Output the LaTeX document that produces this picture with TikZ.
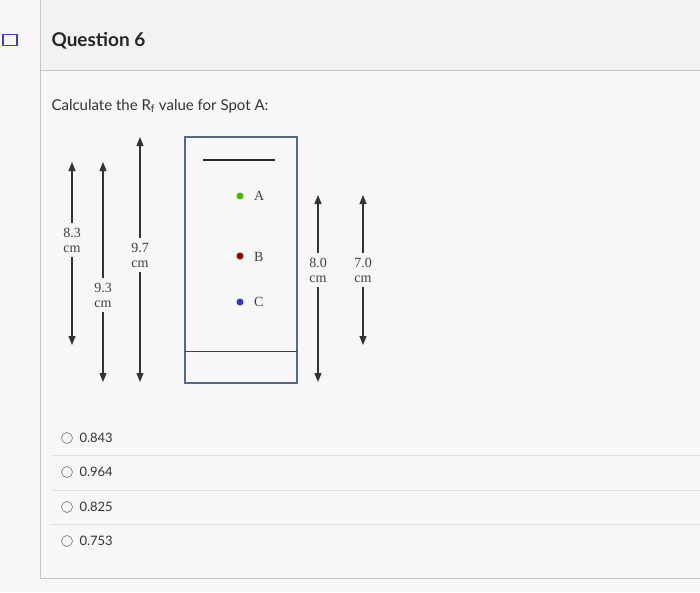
\documentclass[tikz,border=0pt]{standalone}
\usepackage{fontspec}
\setmainfont{Lato}
\newfontfamily\tms{Liberation Serif}
\usetikzlibrary{arrows.meta}
\definecolor{platec}{RGB}{85,105,135}
\begin{document}
\begin{tikzpicture}[x=1pt,y=-1pt,
  dim/.style={draw=black!80,line width=1.1pt,shorten <=4pt,-{Triangle[length=9pt,width=7pt]}},
  lbl/.style={font=\tms\fontsize{14}{15}\selectfont,text=black!75,align=center,inner sep=1pt},
  opt/.style={circle,draw=black!50,line width=0.7pt,inner sep=0pt,minimum size=11pt},
  otext/.style={anchor=west,font=\fontsize{13}{15}\selectfont,text=black!80}]
\fill[gray!6] (0,0) rectangle (700,592);
\useasboundingbox (0,0) rectangle (700,592);
\fill[gray!10] (40,0) rectangle (700,70);
\draw[gray!45] (40,0) -- (40,578) -- (700,578);
\draw[gray!45] (40,70) -- (700,70);
\node[draw=blue!50!gray,line width=1.2pt,minimum width=14pt,minimum height=11pt,inner sep=0pt] (ic) at (10,40) {};
\node[anchor=west,font=\bfseries\fontsize{19}{22}\selectfont,text=black!85] (q) at (48,41) {Question 6};
\node[anchor=west,font=\fontsize{15}{18}\selectfont,text=black!80] (t) at (48,106) {Calculate the R\textsubscript{f} value for Spot A:};
% plate
\node[draw=platec,line width=1.8pt,minimum width=112pt,minimum height=246pt,inner sep=0pt] (plate) at (241,260) {};
\draw[black!75,line width=0.9pt] ([xshift=1pt]plate.west |- 0,351) -- ([xshift=-1pt]plate.east |- 0,351);
\draw[black!85,line width=1.1pt] (203,160) -- (275,160);
\node[circle,fill=green!45!olive,minimum size=7pt,inner sep=0pt] (a) at (240,196) {};
\node[circle,fill=red!55!black,minimum size=7pt,inner sep=0pt] (b) at (240,256) {};
\node[circle,fill=blue!55!gray,minimum size=7pt,inner sep=0pt] (c) at (240,302) {};
\node[lbl,anchor=west] at (253,196) {A};
\node[lbl,anchor=west] at (253,257) {B};
\node[lbl,anchor=west] at (253,302) {C};
% dimension arrows
\foreach \n/\x/\ya/\yb/\yl/\t in {d1/72/162/345/240/8.3, d2/103/162/382/295/9.3, d3/140/137/382/255/9.7, d4/318/195/382/270/8.0, d5/363/195/345/270/7.0}{
  \coordinate (\n t) at (\x,\ya);
  \coordinate (\n b) at (\x,\yb);
  \node[lbl] (\n l) at (\x,\yl) {\t\\cm};
  \draw[dim] (\n l.north) -- (\n t);
  \draw[dim] (\n l.south) -- (\n b);
}
% options
\foreach \i/\y/\v in {1/438/0.843, 2/472/0.964, 3/507/0.825, 4/541/0.753}{
  \node[opt] (o\i) at (67,\y) {};
  \node[otext] at (76,\y) {\v};
}
\foreach \y in {455,490,524}{\draw[gray!25] (52,\y) -- (700,\y);}
\end{tikzpicture}
\end{document}
